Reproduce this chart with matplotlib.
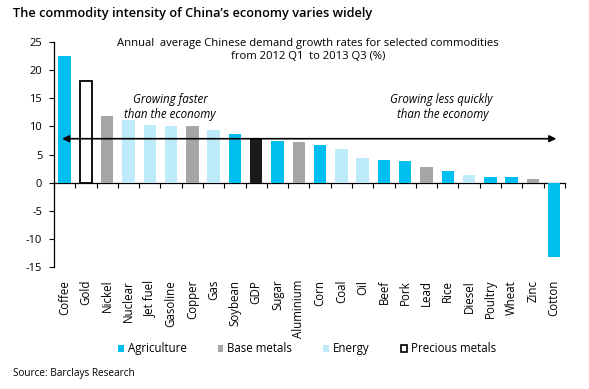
import matplotlib
matplotlib.use("Agg")
import matplotlib.pyplot as plt
from matplotlib.patches import Patch

categories = ["Coffee", "Gold", "Nickel", "Nuclear", "Jet fuel", "Gasoline", "Copper", "Gas",
              "Soybean", "GDP", "Sugar", "Aluminium", "Corn", "Coal", "Oil", "Beef", "Pork",
              "Lead", "Rice", "Diesel", "Poultry", "Wheat", "Zinc", "Cotton"]
values = [22.5, 18.0, 11.8, 11.2, 10.2, 10.1, 10.1, 9.3, 8.7, 7.7, 7.4, 7.3, 6.6, 6.0,
          4.3, 4.0, 3.8, 2.8, 2.1, 1.4, 1.1, 1.1, 0.6, -13.2]
groups = ["Agriculture", "Precious metals", "Base metals", "Energy", "Energy", "Energy",
          "Base metals", "Energy", "Agriculture", "GDP", "Agriculture", "Base metals",
          "Agriculture", "Energy", "Energy", "Agriculture", "Agriculture", "Base metals",
          "Agriculture", "Energy", "Agriculture", "Agriculture", "Base metals", "Agriculture"]
gdp_level = 7.8
yticks = [-15, -10, -5, 0, 5, 10, 15, 20, 25]

face = {"Agriculture": "#00BFEF", "Base metals": "#A6A6A6", "Energy": "#BDEBFA",
        "Precious metals": "white", "GDP": "#1A1A1A"}
edge = {"Agriculture": "none", "Base metals": "none", "Energy": "none",
        "Precious metals": "black", "GDP": "none"}

plt.rcParams['font.family'] = ['Open Sans', 'DejaVu Sans']

fig = plt.figure(figsize=(5.89, 3.89), dpi=100)
ax = fig.add_axes([0.0917, 0.3128, 0.959 - 0.0917, 0.58])

x = list(range(len(categories)))
for i, (v, g) in enumerate(zip(values, groups)):
    ax.bar(i, v, width=0.58, color=face[g], edgecolor=edge[g],
           linewidth=1.3 if g == "Precious metals" else 0)

ax.set_xlim(-0.5, len(categories) - 0.5)
ax.set_ylim(-15, 25)
ax.set_yticks(yticks)
ax.set_yticklabels([str(t) for t in yticks], fontsize=8)
ax.tick_params(axis='y', direction='out', length=3.5, width=0.8, pad=5)
ax.spines['top'].set_visible(False)
ax.spines['right'].set_visible(False)
ax.spines['bottom'].set_visible(False)
ax.spines['left'].set_linewidth(0.9)

ax.set_xticks(x)
ax.set_xticklabels(categories, rotation=90, fontsize=8.3)
ax.tick_params(axis='x', length=0, pad=9)

# zero axis with boundary ticks
sec = ax.secondary_xaxis(15 / 40)
sec.set_xticks([i - 0.5 for i in range(len(categories) + 1)])
sec.set_xticklabels([])
sec.tick_params(axis='x', direction='out', length=3.5, width=0.8)
sec.spines['bottom'].set_linewidth(0.9)

# GDP arrow
ax.annotate("", xy=(-0.12, gdp_level), xytext=(23.1, gdp_level),
            arrowprops=dict(arrowstyle="<|-|>", color="black", lw=1.2,
                            mutation_scale=10, shrinkA=0, shrinkB=0))

ax.text(11.45, 25.6, "Annual  average Chinese demand growth rates for selected commodities\nfrom 2012 Q1  to 2013 Q3 (%)",
        ha='center', va='top', fontsize=8.1, linespacing=1.15)
ax.text(4.95, 15.9, "Growing faster\nthan the economy", ha='center', va='top',
        fontsize=8.3, style='italic', linespacing=1.2)
ax.text(17.7, 15.9, "Growing less quickly\n than the economy", ha='center', va='top',
        fontsize=8.3, style='italic', linespacing=1.2)

fig.text(0.022, 0.965, "The commodity intensity of China\u2019s economy varies widely",
         fontsize=9.2, fontweight='semibold', va='center', ha='left')
fig.text(0.022, 0.041, "Source: Barclays Research", fontsize=7.2, va='center', ha='left')

handles = [Patch(facecolor=face["Agriculture"], edgecolor='none'),
           Patch(facecolor=face["Base metals"], edgecolor='none'),
           Patch(facecolor=face["Energy"], edgecolor='none'),
           Patch(facecolor='white', edgecolor='black', linewidth=1.2)]
labels = ["Agriculture", "Base metals", "Energy", "Precious metals"]
fig.legend(handles, labels, loc='center', bbox_to_anchor=(0.521, 0.103), ncol=4,
           frameon=False, fontsize=8.3, handlelength=0.5, handleheight=0.5,
           handletextpad=0.35, columnspacing=2.7)

fig.savefig("out.png", dpi=100)
